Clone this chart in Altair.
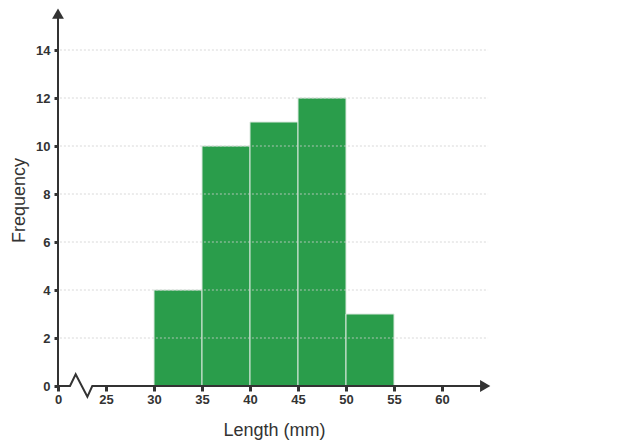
import altair as alt
import pandas as pd

# ---- data ----
bin_start = [30, 35, 40, 45, 50]
bin_end = [35, 40, 45, 50, 55]
frequency = [4, 10, 11, 12, 3]

x_ticks = [20, 25, 30, 35, 40, 45, 50, 55, 60]   # 20 is drawn as the broken-axis "0"
y_ticks = [0, 2, 4, 6, 8, 10, 12, 14]
grid_levels = [2, 4, 6, 8, 10, 12, 14]

# broken-axis zigzag (data units)
zig_x = [20, 21.25, 21.84, 23.06, 23.57, 64.17]
zig_y = [0, 0, 0.49, -0.45, 0, 0]

X_MIN, X_MAX = 20, 65
Y_MIN, Y_MAX = 0, 15.5
AX = "#333333"
FONT = "Liberation Sans"

bars = pd.DataFrame({"start": bin_start, "end": bin_end, "freq": frequency})
bars["zero"] = 0
grid = pd.DataFrame({"level": grid_levels, "x0": [20.2] * len(grid_levels), "x1": [64.8] * len(grid_levels)})
zig = pd.DataFrame({"x": zig_x, "y": zig_y, "o": list(range(len(zig_x)))})

xs = alt.Scale(domain=[X_MIN, X_MAX], nice=False, zero=False)
ys = alt.Scale(domain=[Y_MIN, Y_MAX], nice=False)

bar_layer = alt.Chart(bars).mark_rect(
    color="#2a9d4b", stroke="#dbe9df", strokeWidth=1
).encode(
    x=alt.X("start:Q", scale=xs, title="Length (mm)",
            axis=alt.Axis(values=x_ticks, labelExpr="datum.value == 20 ? '0' : datum.label",
                          domain=False, grid=False, tickSize=5, tickWidth=3, tickColor=AX,
                          labelColor=AX, labelFont=FONT, labelFontSize=13, labelFontWeight="bold",
                          labelFlush=False, labelPadding=2, titleFont=FONT, titleFontSize=18,
                          titleFontWeight="normal", titleColor=AX, titlePadding=15)),
    x2="end:Q",
    y=alt.Y("freq:Q", scale=ys, title="Frequency",
            axis=alt.Axis(values=y_ticks, domain=False, grid=False, tickSize=4, tickWidth=3,
                          tickColor=AX, labelColor=AX, labelFont=FONT, labelFontSize=13,
                          labelFontWeight="bold", labelFlush=False, labelPadding=4, titleFont=FONT,
                          titleFontSize=18, titleFontWeight="normal", titleColor=AX, titlePadding=7)),
    y2="zero:Q",
)

grid_layer = alt.Chart(grid).mark_rule(
    color="#d0d0d0", strokeWidth=1, strokeDash=[2, 2], opacity=0.8
).encode(
    x=alt.X("x0:Q", scale=xs), x2="x1:Q", y=alt.Y("level:Q", scale=ys)
)

x_axis_line = alt.Chart(zig).mark_line(color=AX, strokeWidth=2, strokeJoin="miter").encode(
    x=alt.X("x:Q", scale=xs), y=alt.Y("y:Q", scale=ys), order="o:Q"
)

y_axis_line = alt.Chart(pd.DataFrame({"x": [20], "y0": [0], "y1": [15.4]})).mark_rule(
    color=AX, strokeWidth=2
).encode(x=alt.X("x:Q", scale=xs), y=alt.Y("y0:Q", scale=ys), y2="y1:Q")

arrow_right = alt.Chart(pd.DataFrame({"x": [64.5], "y": [0]})).mark_point(
    shape="triangle-right", filled=True, color=AX, size=140, opacity=1, strokeWidth=0
).encode(x=alt.X("x:Q", scale=xs), y=alt.Y("y:Q", scale=ys))

arrow_up = alt.Chart(pd.DataFrame({"x": [20], "y": [15.52]})).mark_point(
    shape="triangle-up", filled=True, color=AX, size=140, opacity=1, strokeWidth=0
).encode(x=alt.X("x:Q", scale=xs), y=alt.Y("y:Q", scale=ys))

chart = alt.layer(bar_layer, grid_layer, x_axis_line, y_axis_line, arrow_right, arrow_up).properties(
    width=432, height=372,
    autosize=alt.AutoSizeParams(type="none"),
    padding={"left": 50, "top": 6, "right": 100, "bottom": 56},
).configure(background="white").configure_view(stroke=None, strokeWidth=0)

chart.save("out.html", embed_options={"renderer": "svg", "actions": False})
